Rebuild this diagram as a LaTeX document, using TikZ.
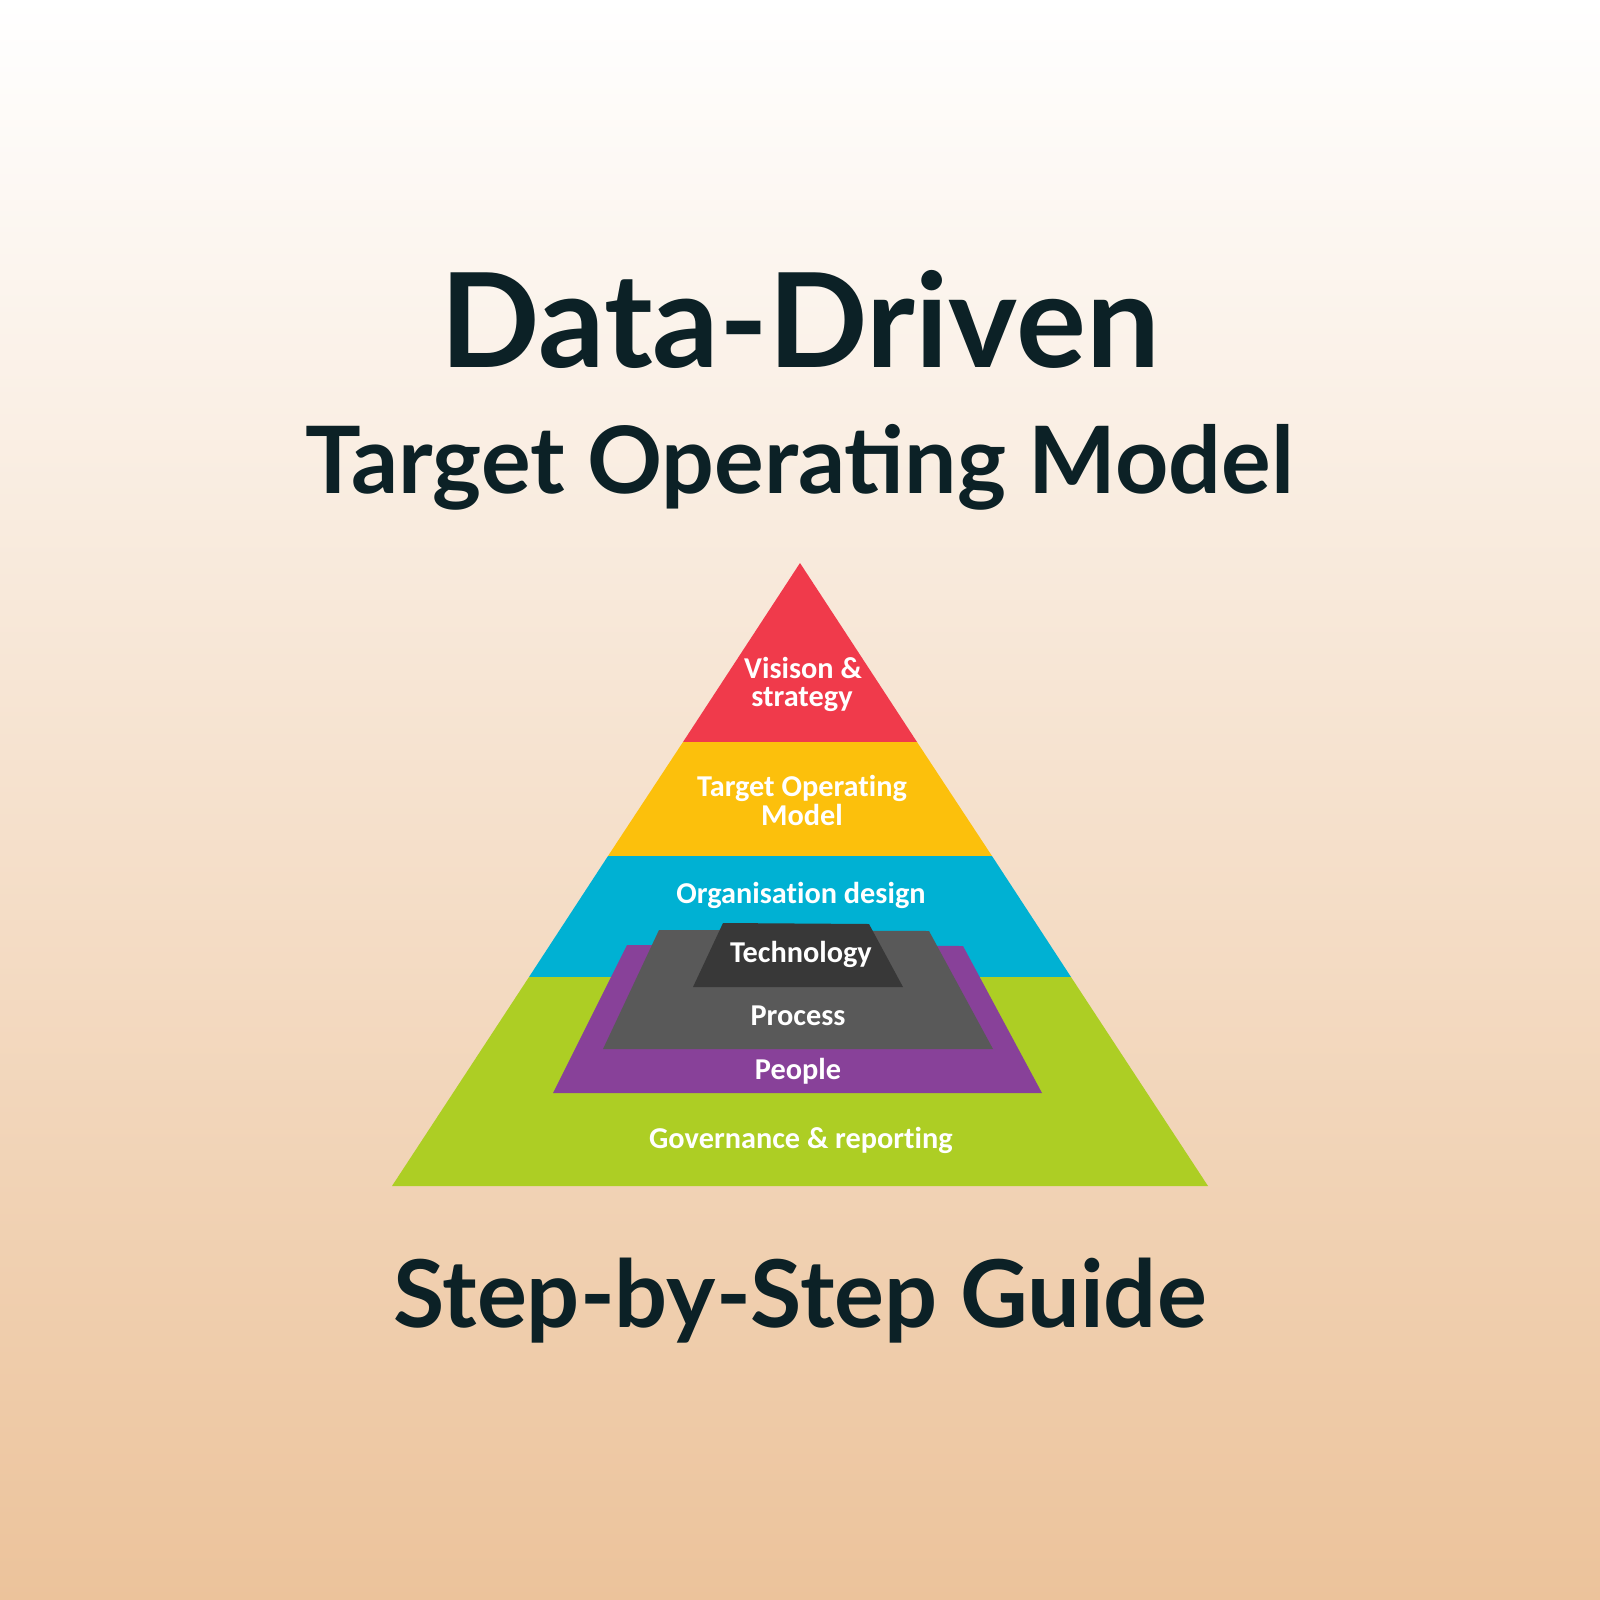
\documentclass[tikz,border=0pt]{standalone}
\usepackage{fontspec}
\newfontfamily\titlefont{Lato}
\newfontfamily\lblfont{Carlito}[Ligatures=NoCommon]
\definecolor{bgtop}{HTML}{FFFFFF}
\definecolor{bgbot}{HTML}{ECC39B}
\definecolor{ink}{HTML}{0C2126}
\definecolor{cred}{HTML}{F03A4B}
\definecolor{cyel}{HTML}{FCC00C}
\definecolor{ccya}{HTML}{00B1D3}
\definecolor{cgrn}{HTML}{ADCE24}
\definecolor{cpur}{HTML}{884199}
\definecolor{cgry}{HTML}{595959}
\definecolor{cdrk}{HTML}{383838}
\tikzset{
  title/.style={text=ink, inner sep=0pt, anchor=base, font=\titlefont\bfseries},
  lbl/.style={text=white, inner sep=0pt, anchor=base, align=center,
    font=\lblfont\bfseries\fontsize{30.3}{29}\selectfont},
}
\begin{document}
\begin{tikzpicture}[x=1pt,y=-1pt]
\useasboundingbox (0,0) rectangle (1600,1600);
\shade[top color=bgtop, bottom color=bgbot, middle color=bgtop!50!bgbot] (0,0) rectangle (1600,1600);
% pyramid bands
\fill[cred] (800,563) -- (917,742) -- (683,742) -- cycle;
\fill[cyel] (683,742) -- (917,742) -- (992,856) -- (608,856) -- cycle;
\fill[ccya] (608,856) -- (992,856) -- (1071,977) -- (529,977) -- cycle;
\fill[cgrn] (529,977) -- (1071,977) -- (1208,1186) -- (392,1186) -- cycle;
% inner stack
\fill[cpur] (627,945) -- (963,946) -- (1042,1093) -- (553,1093) -- cycle;
\fill[cgry] (659,930) -- (929,931) -- (993,1049) -- (603,1049) -- cycle;
\fill[cdrk] (723,923) -- (869,924) -- (903,987) -- (693,987) -- cycle;
% titles
\node[title, font=\titlefont\bfseries\fontsize{131}{131}\selectfont] (t1) at (800,367) {Data-Driven};
\node[title, font=\titlefont\bfseries\fontsize{93}{93}\selectfont] (t2) at (800,493) {Target Operating Model};
\node[title, font=\titlefont\bfseries\fontsize{93.5}{93.5}\selectfont] (t3) at (800,1327) {Step-by-Step Guide};
% labels
\node[lbl] (l1a) at (803,678) {Visison \&};
\node[lbl] (l1b) at (802,706) {strategy};
\node[lbl] (l2a) at (802,796) {Target Operating};
\node[lbl] (l2b) at (802,825) {Model};
\node[lbl] (l3) at (801,903) {Organisation design};
\node[lbl] (l4) at (801,962) {Technology};
\node[lbl] (l5) at (798,1025) {Process};
\node[lbl] (l6) at (798,1079) {People};
\node[lbl] (l7) at (801,1148) {Governance \& reporting};
\end{tikzpicture}
\end{document}
